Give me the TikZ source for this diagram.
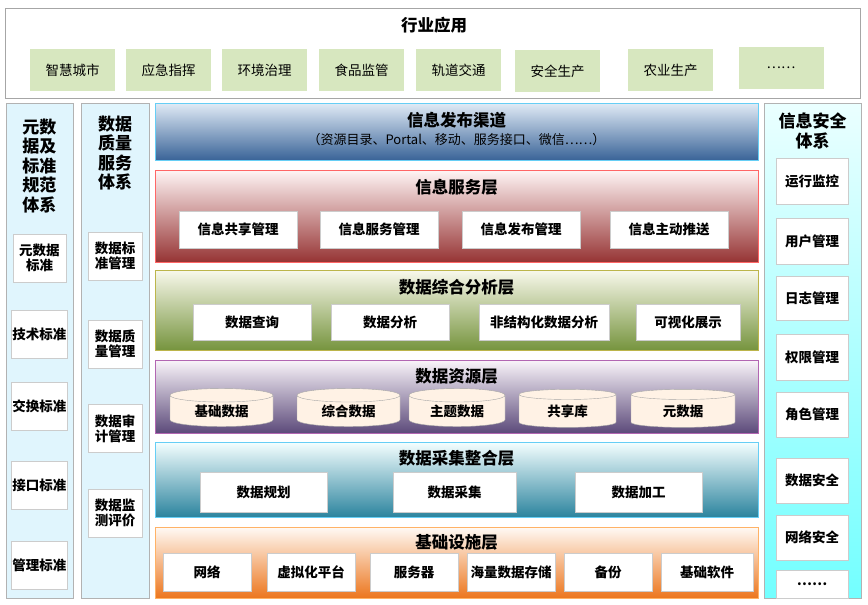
\documentclass[tikz,border=0pt]{standalone}
\usepackage{fontspec}
\newfontfamily\cjk{Noto Sans CJK SC}
\usetikzlibrary{shapes.geometric}
\definecolor{pubbot}{RGB}{58,100,152}
\definecolor{pubtop}{RGB}{225,235,246}
\definecolor{srvbot}{RGB}{150,52,52}
\definecolor{anabot}{RGB}{118,148,62}
\definecolor{resbot}{RGB}{92,74,122}
\definecolor{colbot}{RGB}{44,132,158}
\definecolor{infbot}{RGB}{236,118,30}
\tikzset{
  layer/.style={rectangle,draw=#1!60!white,minimum width=603pt,inner sep=0pt},
  ttl/.style={font=\cjk\bfseries\fontsize{16.5}{18}\selectfont},
  sttl/.style={align=center,inner sep=0pt,font=\cjk\bfseries\fontsize{17}{19.5}\selectfont},
  wbox/.style={rectangle,draw=gray!40,fill=white,font=\cjk\bfseries\fontsize{13.5}{15}\selectfont,inner sep=1pt,align=center},
  app/.style={rectangle,fill=green!25!olive!25!white,minimum width=85pt,minimum height=42pt,font=\cjk\fontsize{13.5}{15}\selectfont},
  side/.style={rectangle,draw=gray!60,fill=cyan!12,inner sep=0pt},
  db/.style={cylinder,shape border rotate=90,aspect=0.25,draw=gray!70,fill=orange!10,font=\cjk\bfseries\fontsize{13.5}{15}\selectfont,minimum height=38pt,inner sep=0pt}
}
\begin{document}
\begin{tikzpicture}[x=1pt,y=-1pt]
\useasboundingbox (0,0) rectangle (868,605);
% industry applications
\node[rectangle,draw=gray!70,minimum width=855pt,minimum height=90pt] (top) at (432.5,53) {};
\node[ttl] (topt) at (434,25) {行业应用};
\node[app] (a1) at (72.5,70) {智慧城市};
\node[app] (a2) at (168.5,70) {应急指挥};
\node[app] (a3) at (264.5,70) {环境治理};
\node[app] (a4) at (361.5,70) {食品监管};
\node[app] (a5) at (458.5,70) {轨道交通};
\node[app] (a6) at (557.5,71) {安全生产};
\node[app] (a7) at (670.5,70) {农业生产};
\node[app] (a8) at (781,68) {……};
% side columns
\node[side,minimum width=67pt,minimum height=495pt] (c1) at (39.5,350.5) {};
\node[side,minimum width=68pt,minimum height=495pt] (c2) at (115,350.5) {};
\node[side,top color=cyan!8,bottom color=cyan!55,minimum width=97pt,minimum height=495pt] (c3) at (812.5,350.5) {};
\node[sttl] (c1t) at (39.5,166) {元数\\据及\\标准\\规范\\体系};
\node[sttl] (c2t) at (115,153) {数据\\质量\\服务\\体系};
\node[sttl] (c3t) at (812.5,131) {信息安全\\体系};
\node[wbox,minimum width=53pt,minimum height=48pt] (s1) at (39.5,258) {元数据\\标准};
\node[wbox,minimum width=55pt,minimum height=48pt] (s2) at (39.5,334) {技术标准};
\node[wbox,minimum width=55pt,minimum height=48pt] (s3) at (39.5,406) {交换标准};
\node[wbox,minimum width=55pt,minimum height=48pt] (s4) at (39.5,485) {接口标准};
\node[wbox,minimum width=55pt,minimum height=48pt] (s5) at (39.5,565) {管理标准};
\node[wbox,minimum width=54pt,minimum height=48pt] (q1) at (115,256) {数据标\\准管理};
\node[wbox,minimum width=54pt,minimum height=48pt] (q2) at (115,344) {数据质\\量管理};
\node[wbox,minimum width=54pt,minimum height=48pt] (q3) at (115,428.5) {数据审\\计管理};
\node[wbox,minimum width=54pt,minimum height=48pt] (q4) at (115,513) {数据监\\测评价};
\node[wbox,minimum width=72pt,minimum height=46pt] (r1) at (812,181) {运行监控};
\node[wbox,minimum width=72pt,minimum height=46pt] (r2) at (812,241) {用户管理};
\node[wbox,minimum width=72pt,minimum height=44pt] (r3) at (812,298) {日志管理};
\node[wbox,minimum width=72pt,minimum height=46pt] (r4) at (812,357) {权限管理};
\node[wbox,minimum width=72pt,minimum height=45pt] (r5) at (812,414.5) {角色管理};
\node[wbox,minimum width=72pt,minimum height=45pt] (r6) at (812,480.5) {数据安全};
\node[wbox,minimum width=72pt,minimum height=45pt] (r7) at (812,537.5) {网络安全};
\node[wbox,minimum width=72pt,minimum height=28pt] (r8) at (812,584) {……};
% publishing channel
\node[layer=cyan,top color=pubtop,bottom color=pubbot,minimum height=57pt] (l1) at (456.5,131.5) {};
\node[ttl] (l1t) at (456.5,120) {信息发布渠道};
\node[font=\cjk\fontsize{13}{15}\selectfont] (l1s) at (456.5,140) {（资源目录、Portal、移动、服务接口、微信……）};
% information service
\node[layer=red,top color=red!4,bottom color=srvbot,minimum height=92pt] (l2) at (456.5,216) {};
\node[ttl] (l2t) at (456.5,187) {信息服务层};
\node[wbox,minimum width=118pt,minimum height=37pt] (b21) at (238,229.5) {信息共享管理};
\node[wbox,minimum width=118pt,minimum height=37pt] (b22) at (379,229.5) {信息服务管理};
\node[wbox,minimum width=118pt,minimum height=37pt] (b23) at (521,229.5) {信息发布管理};
\node[wbox,minimum width=118pt,minimum height=37pt] (b24) at (669,229.5) {信息主动推送};
% analysis
\node[layer=olive,top color=olive!5!white,bottom color=anabot,minimum height=80pt] (l3) at (456.5,310) {};
\node[ttl] (l3t) at (456.5,287) {数据综合分析层};
\node[wbox,minimum width=118pt,minimum height=36pt] (b31) at (252,322) {数据查询};
\node[wbox,minimum width=118pt,minimum height=36pt] (b32) at (390,322) {数据分析};
\node[wbox,minimum width=130pt,minimum height=36pt] (b33) at (544,322) {非结构化数据分析};
\node[wbox,minimum width=104pt,minimum height=36pt] (b34) at (688,322) {可视化展示};
% resources
\node[layer=violet,top color=violet!4,bottom color=resbot,minimum height=73pt] (l4) at (456.5,396.5) {};
\node[ttl] (l4t) at (456.5,376) {数据资源层};
\node[db,minimum width=103pt] (d1) at (221.5,411) {基础数据};
\node[db,minimum width=103pt] (d2) at (348.5,411) {综合数据};
\node[db,minimum width=96pt] (d3) at (457,411) {主题数据};
\node[db,minimum width=97pt] (d4) at (567.5,411) {共享库};
\node[db,minimum width=104pt] (d5) at (683,411) {元数据};
% collection
\node[layer=cyan,top color=cyan!4,bottom color=colbot,minimum height=75pt] (l5) at (456.5,479.5) {};
\node[ttl] (l5t) at (456.5,458) {数据采集整合层};
\node[wbox,minimum width=127pt,minimum height=40pt] (b51) at (263.5,492) {数据规划};
\node[wbox,minimum width=123pt,minimum height=40pt] (b52) at (454.5,492) {数据采集};
\node[wbox,minimum width=127pt,minimum height=40pt] (b53) at (638.5,492) {数据加工};
% infrastructure
\node[layer=orange,top color=orange!4,bottom color=infbot,minimum height=71pt] (l6) at (456.5,562.5) {};
\node[ttl] (l6t) at (456.5,542) {基础设施层};
\node[wbox,minimum width=88pt,minimum height=38pt] (b61) at (207,572) {网络};
\node[wbox,minimum width=88pt,minimum height=38pt] (b62) at (311,572) {虚拟化平台};
\node[wbox,minimum width=88pt,minimum height=38pt] (b63) at (414,572) {服务器};
\node[wbox,minimum width=88pt,minimum height=38pt] (b64) at (511,572) {海量数据存储};
\node[wbox,minimum width=88pt,minimum height=38pt] (b65) at (608,572) {备份};
\node[wbox,minimum width=92pt,minimum height=38pt] (b66) at (707,572) {基础软件};
\end{tikzpicture}
\end{document}
